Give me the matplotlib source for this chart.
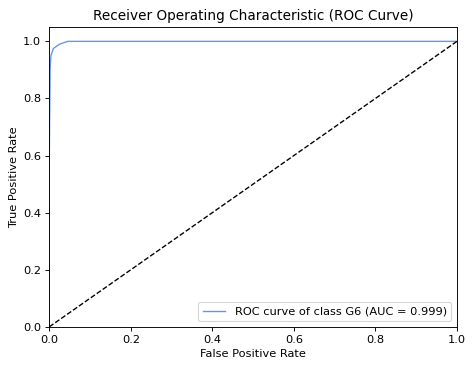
import matplotlib
matplotlib.use("Agg")
import matplotlib.pyplot as plt

# ROC points
fpr = [0.0, 0.0, 0.002, 0.004, 0.01, 0.025, 0.045, 1.0]
tpr = [0.0, 0.6, 0.9, 0.95, 0.975, 0.99, 1.0, 1.0]
auc_val = 0.999
class_name = "G6"
ticks = [0.0, 0.2, 0.4, 0.6, 0.8, 1.0]

DPI = 82
fig = plt.figure(figsize=(474 / DPI, 371 / DPI), dpi=DPI)
ax = fig.add_axes([0.104, 0.119, 0.860, 0.808])
ax.plot(fpr, tpr, color="cornflowerblue", lw=1.2,
        label=f"ROC curve of class {class_name} (AUC = {auc_val:.3f})")
ax.plot([0, 1], [0, 1], "k--", lw=1.2)
ax.set_xlim(0.0, 1.0)
ax.set_ylim(0.0, 1.05)
ax.set_xticks(ticks)
ax.set_yticks(ticks)
ax.set_xlabel("False Positive Rate")
ax.set_ylabel("True Positive Rate")
ax.set_title("Receiver Operating Characteristic (ROC Curve)", fontsize=12)
ax.legend(loc="lower right")
fig.savefig("out.png", dpi=DPI)
